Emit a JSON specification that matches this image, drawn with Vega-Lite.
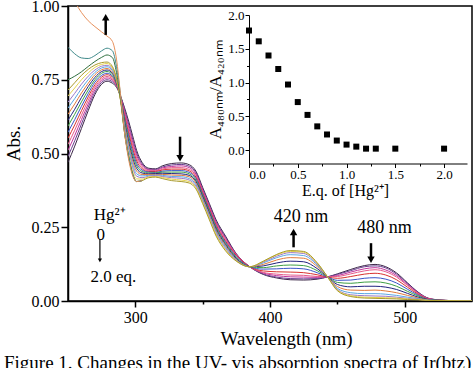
{
"$schema":"https://vega.github.io/schema/vega-lite/v6.json",
"autosize":"none",
"width":404,"height":295,
"padding":{"left":68,"top":6,"right":2,"bottom":67},
"config":{"font":"Liberation Serif","view":{"stroke":"black","strokeWidth":1.5},
"axis":{"grid":false,"domainColor":"black","domainWidth":1.5,"tickColor":"black","tickWidth":1.5,"labelColor":"black","titleColor":"black","titleFontWeight":"normal","labelFont":"Liberation Serif","titleFont":"Liberation Serif"}},
"title":{"text":"Figure 1.   Changes in the UV- vis absorption spectra of Ir(btz)","orient":"bottom","anchor":"start","frame":"bounds","fontSize":19,"fontWeight":"normal","font":"Liberation Serif","offset":6,"color":"black"},
"datasets":{
"spectra":[
{"c":0,"w":250,"a":0.470},{"c":0,"w":255,"a":0.525},{"c":0,"w":260,"a":0.585},{"c":0,"w":265,"a":0.645},{"c":0,"w":270,"a":0.700},{"c":0,"w":275,"a":0.735},{"c":0,"w":279,"a":0.745},{"c":0,"w":283,"a":0.738},{"c":0,"w":286,"a":0.725},{"c":0,"w":289,"a":0.695},{"c":0,"w":292,"a":0.655},{"c":0,"w":295,"a":0.610},{"c":0,"w":298,"a":0.560},{"c":0,"w":301,"a":0.510},{"c":0,"w":305,"a":0.470},{"c":0,"w":310,"a":0.450},{"c":0,"w":315,"a":0.448},{"c":0,"w":320,"a":0.458},{"c":0,"w":327,"a":0.466},{"c":0,"w":334,"a":0.468},{"c":0,"w":340,"a":0.462},{"c":0,"w":345,"a":0.440},{"c":0,"w":350,"a":0.385},{"c":0,"w":355,"a":0.330},{"c":0,"w":360,"a":0.275},{"c":0,"w":367,"a":0.220},{"c":0,"w":375,"a":0.160},{"c":0,"w":385,"a":0.116},{"c":0,"w":395,"a":0.090},{"c":0,"w":405,"a":0.078},{"c":0,"w":415,"a":0.072},{"c":0,"w":425,"a":0.071},{"c":0,"w":435,"a":0.074},{"c":0,"w":443,"a":0.082},{"c":0,"w":450,"a":0.092},{"c":0,"w":460,"a":0.107},{"c":0,"w":470,"a":0.120},{"c":0,"w":478,"a":0.124},{"c":0,"w":486,"a":0.116},{"c":0,"w":494,"a":0.095},{"c":0,"w":502,"a":0.062},{"c":0,"w":510,"a":0.030},{"c":0,"w":518,"a":0.009},{"c":0,"w":530,"a":0.002},{"c":0,"w":550,"a":0},
{"c":1,"w":250,"a":0.490},{"c":1,"w":255,"a":0.543},{"c":1,"w":260,"a":0.600},{"c":1,"w":265,"a":0.657},{"c":1,"w":270,"a":0.708},{"c":1,"w":275,"a":0.741},{"c":1,"w":279,"a":0.750},{"c":1,"w":283,"a":0.743},{"c":1,"w":286,"a":0.728},{"c":1,"w":289,"a":0.694},{"c":1,"w":292,"a":0.648},{"c":1,"w":295,"a":0.600},{"c":1,"w":298,"a":0.549},{"c":1,"w":301,"a":0.501},{"c":1,"w":305,"a":0.465},{"c":1,"w":310,"a":0.447},{"c":1,"w":315,"a":0.446},{"c":1,"w":320,"a":0.454},{"c":1,"w":327,"a":0.461},{"c":1,"w":334,"a":0.463},{"c":1,"w":340,"a":0.457},{"c":1,"w":345,"a":0.435},{"c":1,"w":350,"a":0.380},{"c":1,"w":355,"a":0.325},{"c":1,"w":360,"a":0.270},{"c":1,"w":367,"a":0.216},{"c":1,"w":375,"a":0.159},{"c":1,"w":385,"a":0.116},{"c":1,"w":395,"a":0.092},{"c":1,"w":405,"a":0.081},{"c":1,"w":415,"a":0.076},{"c":1,"w":425,"a":0.075},{"c":1,"w":435,"a":0.076},{"c":1,"w":443,"a":0.082},{"c":1,"w":450,"a":0.090},{"c":1,"w":460,"a":0.103},{"c":1,"w":470,"a":0.116},{"c":1,"w":478,"a":0.119},{"c":1,"w":486,"a":0.112},{"c":1,"w":494,"a":0.091},{"c":1,"w":502,"a":0.060},{"c":1,"w":510,"a":0.029},{"c":1,"w":518,"a":0.008},{"c":1,"w":530,"a":0.002},{"c":1,"w":550,"a":0},
{"c":2,"w":250,"a":0.511},{"c":2,"w":255,"a":0.561},{"c":2,"w":260,"a":0.615},{"c":2,"w":265,"a":0.668},{"c":2,"w":270,"a":0.717},{"c":2,"w":275,"a":0.747},{"c":2,"w":279,"a":0.756},{"c":2,"w":283,"a":0.748},{"c":2,"w":286,"a":0.730},{"c":2,"w":289,"a":0.693},{"c":2,"w":292,"a":0.641},{"c":2,"w":295,"a":0.590},{"c":2,"w":298,"a":0.538},{"c":2,"w":301,"a":0.493},{"c":2,"w":305,"a":0.460},{"c":2,"w":310,"a":0.445},{"c":2,"w":315,"a":0.443},{"c":2,"w":320,"a":0.451},{"c":2,"w":327,"a":0.456},{"c":2,"w":334,"a":0.458},{"c":2,"w":340,"a":0.452},{"c":2,"w":345,"a":0.430},{"c":2,"w":350,"a":0.376},{"c":2,"w":355,"a":0.321},{"c":2,"w":360,"a":0.266},{"c":2,"w":367,"a":0.212},{"c":2,"w":375,"a":0.158},{"c":2,"w":385,"a":0.116},{"c":2,"w":395,"a":0.095},{"c":2,"w":405,"a":0.086},{"c":2,"w":415,"a":0.082},{"c":2,"w":425,"a":0.081},{"c":2,"w":435,"a":0.080},{"c":2,"w":443,"a":0.082},{"c":2,"w":450,"a":0.086},{"c":2,"w":460,"a":0.098},{"c":2,"w":470,"a":0.109},{"c":2,"w":478,"a":0.113},{"c":2,"w":486,"a":0.105},{"c":2,"w":494,"a":0.086},{"c":2,"w":502,"a":0.056},{"c":2,"w":510,"a":0.027},{"c":2,"w":518,"a":0.008},{"c":2,"w":530,"a":0.002},{"c":2,"w":550,"a":0},
{"c":3,"w":250,"a":0.531},{"c":3,"w":255,"a":0.579},{"c":3,"w":260,"a":0.630},{"c":3,"w":265,"a":0.680},{"c":3,"w":270,"a":0.725},{"c":3,"w":275,"a":0.753},{"c":3,"w":279,"a":0.761},{"c":3,"w":283,"a":0.752},{"c":3,"w":286,"a":0.733},{"c":3,"w":289,"a":0.691},{"c":3,"w":292,"a":0.634},{"c":3,"w":295,"a":0.580},{"c":3,"w":298,"a":0.528},{"c":3,"w":301,"a":0.484},{"c":3,"w":305,"a":0.455},{"c":3,"w":310,"a":0.442},{"c":3,"w":315,"a":0.441},{"c":3,"w":320,"a":0.447},{"c":3,"w":327,"a":0.452},{"c":3,"w":334,"a":0.452},{"c":3,"w":340,"a":0.446},{"c":3,"w":345,"a":0.425},{"c":3,"w":350,"a":0.371},{"c":3,"w":355,"a":0.316},{"c":3,"w":360,"a":0.261},{"c":3,"w":367,"a":0.208},{"c":3,"w":375,"a":0.156},{"c":3,"w":385,"a":0.116},{"c":3,"w":395,"a":0.097},{"c":3,"w":405,"a":0.091},{"c":3,"w":415,"a":0.088},{"c":3,"w":425,"a":0.087},{"c":3,"w":435,"a":0.083},{"c":3,"w":443,"a":0.082},{"c":3,"w":450,"a":0.083},{"c":3,"w":460,"a":0.092},{"c":3,"w":470,"a":0.102},{"c":3,"w":478,"a":0.106},{"c":3,"w":486,"a":0.099},{"c":3,"w":494,"a":0.081},{"c":3,"w":502,"a":0.053},{"c":3,"w":510,"a":0.026},{"c":3,"w":518,"a":0.007},{"c":3,"w":530,"a":0.002},{"c":3,"w":550,"a":0},
{"c":4,"w":250,"a":0.552},{"c":4,"w":255,"a":0.597},{"c":4,"w":260,"a":0.645},{"c":4,"w":265,"a":0.692},{"c":4,"w":270,"a":0.733},{"c":4,"w":275,"a":0.759},{"c":4,"w":279,"a":0.767},{"c":4,"w":283,"a":0.757},{"c":4,"w":286,"a":0.735},{"c":4,"w":289,"a":0.690},{"c":4,"w":292,"a":0.627},{"c":4,"w":295,"a":0.570},{"c":4,"w":298,"a":0.517},{"c":4,"w":301,"a":0.475},{"c":4,"w":305,"a":0.449},{"c":4,"w":310,"a":0.439},{"c":4,"w":315,"a":0.439},{"c":4,"w":320,"a":0.444},{"c":4,"w":327,"a":0.447},{"c":4,"w":334,"a":0.447},{"c":4,"w":340,"a":0.441},{"c":4,"w":345,"a":0.420},{"c":4,"w":350,"a":0.367},{"c":4,"w":355,"a":0.312},{"c":4,"w":360,"a":0.257},{"c":4,"w":367,"a":0.203},{"c":4,"w":375,"a":0.154},{"c":4,"w":385,"a":0.116},{"c":4,"w":395,"a":0.102},{"c":4,"w":405,"a":0.099},{"c":4,"w":415,"a":0.098},{"c":4,"w":425,"a":0.096},{"c":4,"w":435,"a":0.089},{"c":4,"w":443,"a":0.081},{"c":4,"w":450,"a":0.077},{"c":4,"w":460,"a":0.083},{"c":4,"w":470,"a":0.091},{"c":4,"w":478,"a":0.094},{"c":4,"w":486,"a":0.088},{"c":4,"w":494,"a":0.072},{"c":4,"w":502,"a":0.047},{"c":4,"w":510,"a":0.023},{"c":4,"w":518,"a":0.006},{"c":4,"w":530,"a":0.002},{"c":4,"w":550,"a":0},
{"c":5,"w":250,"a":0.572},{"c":5,"w":255,"a":0.615},{"c":5,"w":260,"a":0.660},{"c":5,"w":265,"a":0.703},{"c":5,"w":270,"a":0.742},{"c":5,"w":275,"a":0.765},{"c":5,"w":279,"a":0.772},{"c":5,"w":283,"a":0.762},{"c":5,"w":286,"a":0.738},{"c":5,"w":289,"a":0.689},{"c":5,"w":292,"a":0.620},{"c":5,"w":295,"a":0.560},{"c":5,"w":298,"a":0.506},{"c":5,"w":301,"a":0.466},{"c":5,"w":305,"a":0.444},{"c":5,"w":310,"a":0.437},{"c":5,"w":315,"a":0.436},{"c":5,"w":320,"a":0.440},{"c":5,"w":327,"a":0.442},{"c":5,"w":334,"a":0.442},{"c":5,"w":340,"a":0.436},{"c":5,"w":345,"a":0.415},{"c":5,"w":350,"a":0.362},{"c":5,"w":355,"a":0.307},{"c":5,"w":360,"a":0.252},{"c":5,"w":367,"a":0.199},{"c":5,"w":375,"a":0.150},{"c":5,"w":385,"a":0.116},{"c":5,"w":395,"a":0.108},{"c":5,"w":405,"a":0.109},{"c":5,"w":415,"a":0.111},{"c":5,"w":425,"a":0.109},{"c":5,"w":435,"a":0.096},{"c":5,"w":443,"a":0.081},{"c":5,"w":450,"a":0.070},{"c":5,"w":460,"a":0.071},{"c":5,"w":470,"a":0.077},{"c":5,"w":478,"a":0.079},{"c":5,"w":486,"a":0.074},{"c":5,"w":494,"a":0.061},{"c":5,"w":502,"a":0.040},{"c":5,"w":510,"a":0.020},{"c":5,"w":518,"a":0.005},{"c":5,"w":530,"a":0.002},{"c":5,"w":550,"a":0},
{"c":6,"w":250,"a":0.593},{"c":6,"w":255,"a":0.633},{"c":6,"w":260,"a":0.675},{"c":6,"w":265,"a":0.715},{"c":6,"w":270,"a":0.750},{"c":6,"w":275,"a":0.772},{"c":6,"w":279,"a":0.778},{"c":6,"w":283,"a":0.767},{"c":6,"w":286,"a":0.740},{"c":6,"w":289,"a":0.688},{"c":6,"w":292,"a":0.613},{"c":6,"w":295,"a":0.550},{"c":6,"w":298,"a":0.495},{"c":6,"w":301,"a":0.458},{"c":6,"w":305,"a":0.439},{"c":6,"w":310,"a":0.434},{"c":6,"w":315,"a":0.434},{"c":6,"w":320,"a":0.437},{"c":6,"w":327,"a":0.437},{"c":6,"w":334,"a":0.437},{"c":6,"w":340,"a":0.431},{"c":6,"w":345,"a":0.410},{"c":6,"w":350,"a":0.358},{"c":6,"w":355,"a":0.303},{"c":6,"w":360,"a":0.248},{"c":6,"w":367,"a":0.195},{"c":6,"w":375,"a":0.147},{"c":6,"w":385,"a":0.116},{"c":6,"w":395,"a":0.113},{"c":6,"w":405,"a":0.119},{"c":6,"w":415,"a":0.122},{"c":6,"w":425,"a":0.120},{"c":6,"w":435,"a":0.103},{"c":6,"w":443,"a":0.081},{"c":6,"w":450,"a":0.063},{"c":6,"w":460,"a":0.060},{"c":6,"w":470,"a":0.064},{"c":6,"w":478,"a":0.065},{"c":6,"w":486,"a":0.061},{"c":6,"w":494,"a":0.050},{"c":6,"w":502,"a":0.033},{"c":6,"w":510,"a":0.017},{"c":6,"w":518,"a":0.004},{"c":6,"w":530,"a":0.002},{"c":6,"w":550,"a":0},
{"c":7,"w":250,"a":0.613},{"c":7,"w":255,"a":0.650},{"c":7,"w":260,"a":0.690},{"c":7,"w":265,"a":0.727},{"c":7,"w":270,"a":0.758},{"c":7,"w":275,"a":0.778},{"c":7,"w":279,"a":0.783},{"c":7,"w":283,"a":0.772},{"c":7,"w":286,"a":0.743},{"c":7,"w":289,"a":0.686},{"c":7,"w":292,"a":0.605},{"c":7,"w":295,"a":0.540},{"c":7,"w":298,"a":0.484},{"c":7,"w":301,"a":0.449},{"c":7,"w":305,"a":0.434},{"c":7,"w":310,"a":0.431},{"c":7,"w":315,"a":0.432},{"c":7,"w":320,"a":0.433},{"c":7,"w":327,"a":0.432},{"c":7,"w":334,"a":0.431},{"c":7,"w":340,"a":0.426},{"c":7,"w":345,"a":0.405},{"c":7,"w":350,"a":0.353},{"c":7,"w":355,"a":0.298},{"c":7,"w":360,"a":0.243},{"c":7,"w":367,"a":0.191},{"c":7,"w":375,"a":0.144},{"c":7,"w":385,"a":0.116},{"c":7,"w":395,"a":0.119},{"c":7,"w":405,"a":0.129},{"c":7,"w":415,"a":0.135},{"c":7,"w":425,"a":0.133},{"c":7,"w":435,"a":0.110},{"c":7,"w":443,"a":0.081},{"c":7,"w":450,"a":0.056},{"c":7,"w":460,"a":0.048},{"c":7,"w":470,"a":0.050},{"c":7,"w":478,"a":0.050},{"c":7,"w":486,"a":0.047},{"c":7,"w":494,"a":0.039},{"c":7,"w":502,"a":0.026},{"c":7,"w":510,"a":0.013},{"c":7,"w":518,"a":0.004},{"c":7,"w":530,"a":0.001},{"c":7,"w":550,"a":0},
{"c":8,"w":250,"a":0.633},{"c":8,"w":255,"a":0.668},{"c":8,"w":260,"a":0.705},{"c":8,"w":265,"a":0.738},{"c":8,"w":270,"a":0.767},{"c":8,"w":275,"a":0.784},{"c":8,"w":279,"a":0.788},{"c":8,"w":283,"a":0.776},{"c":8,"w":286,"a":0.745},{"c":8,"w":289,"a":0.685},{"c":8,"w":292,"a":0.598},{"c":8,"w":295,"a":0.530},{"c":8,"w":298,"a":0.473},{"c":8,"w":301,"a":0.440},{"c":8,"w":305,"a":0.429},{"c":8,"w":310,"a":0.429},{"c":8,"w":315,"a":0.429},{"c":8,"w":320,"a":0.429},{"c":8,"w":327,"a":0.427},{"c":8,"w":334,"a":0.426},{"c":8,"w":340,"a":0.421},{"c":8,"w":345,"a":0.400},{"c":8,"w":350,"a":0.348},{"c":8,"w":355,"a":0.293},{"c":8,"w":360,"a":0.238},{"c":8,"w":367,"a":0.187},{"c":8,"w":375,"a":0.141},{"c":8,"w":385,"a":0.116},{"c":8,"w":395,"a":0.124},{"c":8,"w":405,"a":0.139},{"c":8,"w":415,"a":0.147},{"c":8,"w":425,"a":0.145},{"c":8,"w":435,"a":0.117},{"c":8,"w":443,"a":0.080},{"c":8,"w":450,"a":0.049},{"c":8,"w":460,"a":0.037},{"c":8,"w":470,"a":0.036},{"c":8,"w":478,"a":0.037},{"c":8,"w":486,"a":0.034},{"c":8,"w":494,"a":0.028},{"c":8,"w":502,"a":0.019},{"c":8,"w":510,"a":0.010},{"c":8,"w":518,"a":0.003},{"c":8,"w":530,"a":0.001},{"c":8,"w":550,"a":0},
{"c":9,"w":250,"a":0.654},{"c":9,"w":255,"a":0.686},{"c":9,"w":260,"a":0.720},{"c":9,"w":265,"a":0.750},{"c":9,"w":270,"a":0.775},{"c":9,"w":275,"a":0.790},{"c":9,"w":279,"a":0.794},{"c":9,"w":283,"a":0.781},{"c":9,"w":286,"a":0.748},{"c":9,"w":289,"a":0.684},{"c":9,"w":292,"a":0.591},{"c":9,"w":295,"a":0.520},{"c":9,"w":298,"a":0.463},{"c":9,"w":301,"a":0.431},{"c":9,"w":305,"a":0.424},{"c":9,"w":310,"a":0.426},{"c":9,"w":315,"a":0.427},{"c":9,"w":320,"a":0.426},{"c":9,"w":327,"a":0.422},{"c":9,"w":334,"a":0.421},{"c":9,"w":340,"a":0.415},{"c":9,"w":345,"a":0.395},{"c":9,"w":350,"a":0.344},{"c":9,"w":355,"a":0.289},{"c":9,"w":360,"a":0.234},{"c":9,"w":367,"a":0.183},{"c":9,"w":375,"a":0.139},{"c":9,"w":385,"a":0.116},{"c":9,"w":395,"a":0.129},{"c":9,"w":405,"a":0.147},{"c":9,"w":415,"a":0.157},{"c":9,"w":425,"a":0.154},{"c":9,"w":435,"a":0.122},{"c":9,"w":443,"a":0.080},{"c":9,"w":450,"a":0.043},{"c":9,"w":460,"a":0.028},{"c":9,"w":470,"a":0.025},{"c":9,"w":478,"a":0.025},{"c":9,"w":486,"a":0.023},{"c":9,"w":494,"a":0.019},{"c":9,"w":502,"a":0.013},{"c":9,"w":510,"a":0.008},{"c":9,"w":518,"a":0.003},{"c":9,"w":530,"a":0.001},{"c":9,"w":550,"a":0},
{"c":10,"w":250,"a":0.674},{"c":10,"w":255,"a":0.704},{"c":10,"w":260,"a":0.735},{"c":10,"w":265,"a":0.762},{"c":10,"w":270,"a":0.783},{"c":10,"w":275,"a":0.796},{"c":10,"w":279,"a":0.799},{"c":10,"w":283,"a":0.786},{"c":10,"w":286,"a":0.750},{"c":10,"w":289,"a":0.683},{"c":10,"w":292,"a":0.584},{"c":10,"w":295,"a":0.510},{"c":10,"w":298,"a":0.452},{"c":10,"w":301,"a":0.423},{"c":10,"w":305,"a":0.418},{"c":10,"w":310,"a":0.423},{"c":10,"w":315,"a":0.425},{"c":10,"w":320,"a":0.422},{"c":10,"w":327,"a":0.418},{"c":10,"w":334,"a":0.416},{"c":10,"w":340,"a":0.410},{"c":10,"w":345,"a":0.390},{"c":10,"w":350,"a":0.339},{"c":10,"w":355,"a":0.284},{"c":10,"w":360,"a":0.229},{"c":10,"w":367,"a":0.178},{"c":10,"w":375,"a":0.137},{"c":10,"w":385,"a":0.116},{"c":10,"w":395,"a":0.132},{"c":10,"w":405,"a":0.152},{"c":10,"w":415,"a":0.164},{"c":10,"w":425,"a":0.161},{"c":10,"w":435,"a":0.126},{"c":10,"w":443,"a":0.080},{"c":10,"w":450,"a":0.039},{"c":10,"w":460,"a":0.021},{"c":10,"w":470,"a":0.018},{"c":10,"w":478,"a":0.017},{"c":10,"w":486,"a":0.016},{"c":10,"w":494,"a":0.013},{"c":10,"w":502,"a":0.009},{"c":10,"w":510,"a":0.006},{"c":10,"w":518,"a":0.002},{"c":10,"w":530,"a":0.001},{"c":10,"w":550,"a":0},
{"c":11,"w":250,"a":0.695},{"c":11,"w":255,"a":0.722},{"c":11,"w":260,"a":0.750},{"c":11,"w":265,"a":0.773},{"c":11,"w":270,"a":0.792},{"c":11,"w":275,"a":0.802},{"c":11,"w":279,"a":0.805},{"c":11,"w":283,"a":0.790},{"c":11,"w":286,"a":0.753},{"c":11,"w":289,"a":0.681},{"c":11,"w":292,"a":0.577},{"c":11,"w":295,"a":0.500},{"c":11,"w":298,"a":0.441},{"c":11,"w":301,"a":0.414},{"c":11,"w":305,"a":0.413},{"c":11,"w":310,"a":0.421},{"c":11,"w":315,"a":0.422},{"c":11,"w":320,"a":0.419},{"c":11,"w":327,"a":0.413},{"c":11,"w":334,"a":0.410},{"c":11,"w":340,"a":0.405},{"c":11,"w":345,"a":0.385},{"c":11,"w":350,"a":0.335},{"c":11,"w":355,"a":0.280},{"c":11,"w":360,"a":0.225},{"c":11,"w":367,"a":0.174},{"c":11,"w":375,"a":0.136},{"c":11,"w":385,"a":0.116},{"c":11,"w":395,"a":0.134},{"c":11,"w":405,"a":0.156},{"c":11,"w":415,"a":0.168},{"c":11,"w":425,"a":0.165},{"c":11,"w":435,"a":0.128},{"c":11,"w":443,"a":0.080},{"c":11,"w":450,"a":0.037},{"c":11,"w":460,"a":0.018},{"c":11,"w":470,"a":0.013},{"c":11,"w":478,"a":0.012},{"c":11,"w":486,"a":0.011},{"c":11,"w":494,"a":0.010},{"c":11,"w":502,"a":0.007},{"c":11,"w":510,"a":0.005},{"c":11,"w":518,"a":0.002},{"c":11,"w":530,"a":0.001},{"c":11,"w":550,"a":0},
{"c":12,"w":250,"a":0.715},{"c":12,"w":255,"a":0.740},{"c":12,"w":260,"a":0.765},{"c":12,"w":265,"a":0.785},{"c":12,"w":270,"a":0.800},{"c":12,"w":275,"a":0.808},{"c":12,"w":279,"a":0.810},{"c":12,"w":283,"a":0.795},{"c":12,"w":286,"a":0.755},{"c":12,"w":289,"a":0.680},{"c":12,"w":292,"a":0.570},{"c":12,"w":295,"a":0.490},{"c":12,"w":298,"a":0.430},{"c":12,"w":301,"a":0.405},{"c":12,"w":305,"a":0.408},{"c":12,"w":310,"a":0.418},{"c":12,"w":315,"a":0.420},{"c":12,"w":320,"a":0.415},{"c":12,"w":327,"a":0.408},{"c":12,"w":334,"a":0.405},{"c":12,"w":340,"a":0.400},{"c":12,"w":345,"a":0.380},{"c":12,"w":350,"a":0.330},{"c":12,"w":355,"a":0.275},{"c":12,"w":360,"a":0.220},{"c":12,"w":367,"a":0.170},{"c":12,"w":375,"a":0.135},{"c":12,"w":385,"a":0.116},{"c":12,"w":395,"a":0.135},{"c":12,"w":405,"a":0.158},{"c":12,"w":415,"a":0.171},{"c":12,"w":425,"a":0.168},{"c":12,"w":435,"a":0.130},{"c":12,"w":443,"a":0.080},{"c":12,"w":450,"a":0.035},{"c":12,"w":460,"a":0.015},{"c":12,"w":470,"a":0.010},{"c":12,"w":478,"a":0.009},{"c":12,"w":486,"a":0.008},{"c":12,"w":494,"a":0.007},{"c":12,"w":502,"a":0.005},{"c":12,"w":510,"a":0.004},{"c":12,"w":518,"a":0.002},{"c":12,"w":530,"a":0.001},{"c":12,"w":550,"a":0},
{"c":13,"w":250,"a":0.750},{"c":13,"w":255,"a":0.762},{"c":13,"w":260,"a":0.777},{"c":13,"w":265,"a":0.795},{"c":13,"w":270,"a":0.812},{"c":13,"w":275,"a":0.826},{"c":13,"w":279,"a":0.834},{"c":13,"w":283,"a":0.825},{"c":13,"w":286,"a":0.775},{"c":13,"w":289,"a":0.690},{"c":13,"w":292,"a":0.570},{"c":13,"w":295,"a":0.490},{"c":13,"w":298,"a":0.430},{"c":13,"w":301,"a":0.405},{"c":13,"w":305,"a":0.408},
{"c":14,"w":250,"a":0.860},{"c":14,"w":255,"a":0.838},{"c":14,"w":260,"a":0.824},{"c":14,"w":265,"a":0.822},{"c":14,"w":270,"a":0.832},{"c":14,"w":275,"a":0.848},{"c":14,"w":279,"a":0.857},{"c":14,"w":283,"a":0.848},{"c":14,"w":286,"a":0.795},{"c":14,"w":289,"a":0.700},{"c":14,"w":292,"a":0.575},{"c":14,"w":295,"a":0.490},{"c":14,"w":298,"a":0.430},{"c":14,"w":301,"a":0.405},{"c":14,"w":305,"a":0.408},
{"c":15,"w":250,"a":1.060},{"c":15,"w":255,"a":1.015},{"c":15,"w":260,"a":0.978},{"c":15,"w":265,"a":0.950},{"c":15,"w":270,"a":0.930},{"c":15,"w":275,"a":0.912},{"c":15,"w":279,"a":0.898},{"c":15,"w":283,"a":0.880},{"c":15,"w":286,"a":0.820},{"c":15,"w":289,"a":0.700},{"c":15,"w":292,"a":0.570},{"c":15,"w":295,"a":0.480},{"c":15,"w":298,"a":0.425},{"c":15,"w":301,"a":0.405},{"c":15,"w":305,"a":0.408}
],
"ratio":[
{"q":0,"r":1.77},{"q":0.1,"r":1.61},{"q":0.2,"r":1.40},{"q":0.3,"r":1.20},{"q":0.4,"r":0.97},{"q":0.5,"r":0.71},{"q":0.6,"r":0.52},{"q":0.7,"r":0.35},{"q":0.8,"r":0.23},{"q":0.9,"r":0.14},{"q":1.0,"r":0.08},{"q":1.1,"r":0.05},{"q":1.2,"r":0.02},{"q":1.3,"r":0.02},{"q":1.5,"r":0.02},{"q":2.0,"r":0.02}
]
},
"resolve":{"scale":{"x":"independent","y":"independent"},"axis":{"x":"independent","y":"independent"}},
"layer":[
{"layer":[
{"data":{"name":"spectra"},
"mark":{"type":"line","strokeWidth":1,"interpolate":"monotone","clip":true},
"encoding":{
"x":{"field":"w","type":"quantitative","scale":{"domain":[250,550],"nice":false,"zero":false},
"axis":{"orient":"bottom","values":[300,350,400,450,500],"labelExpr":"datum.value % 100 == 0 ? datum.label : ''","tickSize":{"condition":{"test":"datum.value % 100 != 0","value":3},"value":6},"labelFontSize":16,"labelPadding":2,"title":"Wavelength (nm)","titleFontSize":19,"titlePadding":4,"titleX":218}},
"y":{"field":"a","type":"quantitative","scale":{"domain":[0,1],"nice":false,"zero":false},
"axis":{"orient":"left","values":[0,0.125,0.25,0.375,0.5,0.625,0.75,0.875,1],"labelExpr":"(datum.value*4) % 1 == 0 ? format(datum.value,'.2f') : ''","tickSize":{"condition":{"test":"(datum.value*4) % 1 != 0","value":4},"value":7},"labelFontSize":16,"labelPadding":2,"title":"Abs.","titleFontSize":19,"titlePadding":8,"titleY":137}},
"color":{"field":"c","type":"nominal","scale":{"domain":[0,1,2,3,4,5,6,7,8,9,10,11,12,13,14,15],"range":["#3b2747","#6a3d8f","#c2349b","#e65a8a","#d8322f","#3a55c8","#3f9f45","#22237e","#e2793a","#5aa7e3","#9a78c8","#e5d34f","#a99a2a","#2f6e3e","#3f8a8a","#e8915c"]},"legend":null}
}},
{"data":{"values":[{"w":423,"a":0.285,"t":"420 nm"},{"w":485,"a":0.247,"t":"480 nm"}]},
"mark":{"type":"text","fontSize":18,"font":"Liberation Serif","color":"black","baseline":"middle","align":"center"},
"encoding":{"x":{"field":"w","type":"quantitative"},"y":{"field":"a","type":"quantitative"},"text":{"field":"t"}}},
{"data":{"values":[{"w":281,"a":0.29,"t":"Hg²⁺"},{"w":274.4,"a":0.224,"t":"0"},{"w":283.7,"a":0.082,"t":"2.0 eq."}]},
"mark":{"type":"text","fontSize":17,"font":"Liberation Serif","color":"black","baseline":"middle","align":"center"},
"encoding":{"x":{"field":"w","type":"quantitative"},"y":{"field":"a","type":"quantitative"},"text":{"field":"t"}}},
{"data":{"values":[{"w":278,"a":0.902,"a2":0.962},{"w":333.2,"a":0.557,"a2":0.486},{"w":417.5,"a":0.182,"a2":0.236},{"w":475,"a":0.196,"a2":0.142}]},
"mark":{"type":"rule","strokeWidth":2.5,"color":"black"},
"encoding":{"x":{"field":"w","type":"quantitative"},"y":{"field":"a","type":"quantitative"},"y2":{"field":"a2"}}},
{"data":{"values":[{"w":273.7,"a":0.21,"a2":0.14}]},
"mark":{"type":"rule","strokeWidth":1.2,"color":"black"},
"encoding":{"x":{"field":"w","type":"quantitative"},"y":{"field":"a","type":"quantitative"},"y2":{"field":"a2"}}},
{"data":{"values":[{"w":278,"a":0.962},{"w":417.5,"a":0.234}]},
"mark":{"type":"point","shape":"triangle-up","filled":true,"size":55,"color":"black","opacity":1},
"encoding":{"x":{"field":"w","type":"quantitative"},"y":{"field":"a","type":"quantitative"}}},
{"data":{"values":[{"w":333.2,"a":0.484},{"w":475,"a":0.140}]},
"mark":{"type":"point","shape":"triangle-down","filled":true,"size":55,"color":"black","opacity":1},
"encoding":{"x":{"field":"w","type":"quantitative"},"y":{"field":"a","type":"quantitative"}}},
{"data":{"values":[{"w":273.7,"a":0.138}]},
"mark":{"type":"point","shape":"triangle-down","filled":true,"size":18,"color":"black","opacity":1},
"encoding":{"x":{"field":"w","type":"quantitative"},"y":{"field":"a","type":"quantitative"}}}
]},
{"data":{"name":"ratio"},
"mark":{"type":"point","shape":"square","filled":true,"size":36,"color":"black","opacity":1},
"encoding":{
"x":{"field":"q","type":"quantitative","scale":{"domain":[0,2.235],"range":[181,399],"nice":false,"zero":false},
"axis":{"orient":"bottom","offset":-137.5,"values":[0,0.25,0.5,0.75,1,1.25,1.5,1.75,2],"labelExpr":"(datum.value*2) % 1 == 0 ? format(datum.value,'.1f') : ''","tickSize":{"condition":{"test":"(datum.value*2) % 1 != 0","value":2.5},"value":4},"tickWidth":1,"domainWidth":1,"labelFontSize":13,"labelPadding":1,"title":"E.q. of [Hg²⁺]","titleFontSize":16,"titlePadding":1,"titleX":277}},
"y":{"field":"r","type":"quantitative","scale":{"domain":[-0.2,2.0],"range":[157.5,9],"nice":false,"zero":false},
"axis":{"orient":"left","offset":-181,"values":[0,0.25,0.5,0.75,1,1.25,1.5,1.75,2],"labelExpr":"(datum.value*2) % 1 == 0 ? format(datum.value,'.1f') : ''","tickSize":{"condition":{"test":"(datum.value*2) % 1 != 0","value":2.5},"value":4},"tickWidth":1,"domainWidth":1,"labelFontSize":13,"labelPadding":1,"title":"A₄₈₀ₙₘ/A₄₂₀ₙₘ","titleFontSize":17,"titlePadding":3}}
}}
]
}
